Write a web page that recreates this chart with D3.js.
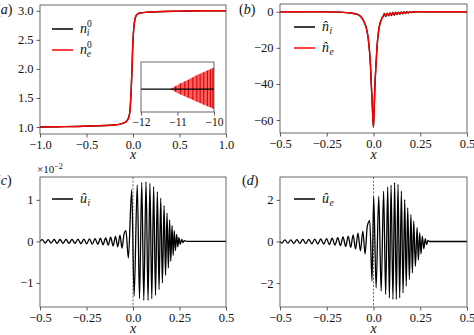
<!DOCTYPE html>
<html><head><meta charset="utf-8">
<script src="https://cdn.jsdelivr.net/npm/d3@7"></script>
<style>
body{margin:0;background:#fff}
svg{display:block}
svg text{font-family:"Liberation Serif","Times New Roman",Times,"DejaVu Serif","Noto Serif",serif}
</style>
</head><body>
<svg id="fig" width="474" height="335"></svg>
<script>
// ---------- data ----------
// panel (a): equilibrium densities
const aX  = [-1, -0.8, -0.6, -0.4, -0.3, -0.2, -0.15, -0.1, -0.07, -0.05, -0.035, -0.025, -0.018, -0.01, -0.004, 0.004, 0.012, 0.022, 0.035, 0.057, 0.09, 0.15, 0.25, 0.5, 0.75, 1.0];
const aNi = [1.0, 1.005, 1.01, 1.02, 1.025, 1.035, 1.045, 1.07, 1.1, 1.15, 1.25, 1.46, 1.7, 2.03, 2.35, 2.6, 2.76, 2.86, 2.92, 2.95, 2.965, 2.975, 2.985, 2.995, 3.0, 3.0];
const aNe = [1.0, 1.005, 1.01, 1.02, 1.025, 1.035, 1.045, 1.07, 1.1, 1.15, 1.25, 1.46, 1.7, 2.03, 2.35, 2.6, 2.76, 2.86, 2.92, 2.95, 2.965, 2.975, 2.985, 2.995, 3.0, 3.0];
// inset of (a): envelope of the red fan and its darker stripes
const insetEnvX   = [-12, -11.2, -11.0, -10.75, -10.5, -10.25, -10.0];
const insetEnvTop = [0, 0, 0.15, 0.32, 0.5, 0.65, 0.8];
const insetEnvBot = [0, 0, -0.15, -0.3, -0.45, -0.6, -0.74];
const insetStripeX   = [-11.05, -10.92, -10.8, -10.7, -10.58, -10.47, -10.38, -10.28, -10.18, -10.1, -10.03];
const insetStripeAmp = [0.12, 0.22, 0.28, 0.34, 0.42, 0.5, 0.55, 0.62, 0.68, 0.72, 0.77];

// panel (b): perturbed densities
const bX  = [-0.5, -0.25, -0.18, -0.12, -0.09, -0.07, -0.055, -0.045, -0.036, -0.028, -0.022, -0.016, -0.012, -0.008, -0.004, 0, 0.004, 0.008, 0.013, 0.018, 0.022, 0.028, 0.035, 0.044, 0.052,
             0.058, 0.066, 0.073, 0.081, 0.088, 0.096, 0.103, 0.111, 0.118, 0.126, 0.133, 0.141, 0.148, 0.156, 0.163, 0.171, 0.178, 0.186, 0.193, 0.201, 0.208, 0.216, 0.223, 0.25, 0.5];
const bNi = [0, -0.05, -0.2, -0.7, -1.3, -2.5, -4.6, -7, -10, -15, -21, -30, -39.6, -48, -58, -64, -52, -40, -30, -21, -15.6, -10, -6.4, -3.8, -2.4,
             -1.0, -2.6, -0.8, -2.3, -0.6, -2.1, -0.4, -1.9, -0.3, -1.6, -0.2, -1.4, -0.1, -1.2, 0.0, -0.9, 0.0, -0.7, 0.0, -0.5, 0.0, -0.3, -0.05, 0, 0];
const bNe = [0, -0.05, -0.2, -0.7, -1.3, -2.5, -4.6, -7, -10, -15, -21, -30, -39.6, -48, -58, -64, -52, -40, -30, -21, -15.6, -10, -6.4, -3.8, -2.4,
             -1.3, -2.2, -1.0, -1.9, -0.8, -1.7, -0.6, -1.5, -0.5, -1.3, -0.4, -1.1, -0.3, -0.9, -0.2, -0.7, -0.1, -0.5, -0.05, -0.35, 0.0, -0.2, -0.05, 0, 0];

// panel (c): ion velocity (x 10^-2), extrema
const cX = [-0.5, -0.488, -0.472, -0.456, -0.440, -0.424, -0.408, -0.392, -0.376, -0.360, -0.344, -0.328, -0.312, -0.296, -0.280, -0.264, -0.249, -0.234, -0.219, -0.204, -0.189, -0.175, -0.161, -0.147, -0.133, -0.120, -0.107, -0.094, -0.082, -0.070, -0.059, -0.048, -0.038, -0.025,
            -0.007, 0.006, 0.023, 0.035, 0.047, 0.058, 0.070, 0.081, 0.091, 0.101, 0.111, 0.121, 0.131, 0.140, 0.149, 0.158, 0.167, 0.175, 0.183, 0.190, 0.197, 0.203, 0.210, 0.216, 0.222, 0.228, 0.235, 0.241, 0.247, 0.254, 0.262, 0.269, 0.276, 0.29, 0.5];
const cU = [0, 0.04, -0.04, 0.04, -0.04, 0.045, -0.045, 0.045, -0.045, 0.05, -0.05, 0.05, -0.05, 0.055, -0.055, 0.055, -0.06, 0.06, -0.065, 0.065, -0.07, 0.075, -0.08, 0.085, -0.09, 0.1, -0.11, 0.12, -0.13, 0.15, -0.16, 0.18, 0.26, -0.4,
            1.24, -1.32, 1.36, -1.38, 1.42, -1.42, 1.44, -1.42, 1.40, -1.38, 1.32, -1.30, 1.20, -1.16, 1.04, -1.0, 0.86, -0.82, 0.68, -0.64, 0.52, -0.48, 0.38, -0.34, 0.26, -0.22, 0.17, -0.13, 0.09, -0.07, 0.05, -0.03, 0.02, 0, 0];

// panel (d): electron velocity
const dX = [-0.5, -0.490, -0.474, -0.458, -0.442, -0.426, -0.410, -0.394, -0.378, -0.362, -0.346, -0.330, -0.314, -0.298, -0.282, -0.266, -0.251, -0.236, -0.221, -0.206, -0.191, -0.177, -0.163, -0.149, -0.135, -0.122, -0.109, -0.096, -0.083, -0.070, -0.057, -0.045, -0.033, -0.020, -0.008,
            0.001, 0.014, 0.028, 0.041, 0.054, 0.065, 0.076, 0.085, 0.094, 0.104, 0.113, 0.122, 0.131, 0.140, 0.149, 0.158, 0.167, 0.175, 0.183, 0.192, 0.200, 0.208, 0.215, 0.224, 0.233, 0.240, 0.247, 0.254, 0.261, 0.269, 0.277, 0.284, 0.291, 0.3, 0.5];
const dU = [0, -0.08, 0.08, -0.08, 0.08, -0.09, 0.09, -0.09, 0.1, -0.1, 0.1, -0.11, 0.11, -0.12, 0.12, -0.13, 0.14, -0.15, 0.16, -0.17, 0.18, -0.2, 0.22, -0.24, 0.26, -0.28, 0.32, -0.36, 0.4, -0.45, 0.5, -0.6, 0.75, 1.0, -1.9,
            2.15, -2.23, 2.18, -2.39, 2.42, -2.55, 2.62, -2.71, 2.71, -2.79, 2.83, -2.79, 2.75, -2.71, 2.42, -2.47, 2.02, -2.15, 1.62, -1.83, 1.3, -1.51, 0.98, -1.19, 0.66, -0.9, 0.42, -0.6, 0.26, -0.35, 0.14, -0.15, 0.05, 0, 0];

// tick values
const aXTicks = [-1, -0.5, 0, 0.5, 1];
const aYTicks = [1.0, 1.5, 2.0, 2.5, 3.0];
const insetXTicks = [-12, -11, -10];
const bXTicks = [-0.5, -0.25, 0, 0.25, 0.5];
const bYTicks = [0, -20, -40, -60];
const cYTicks = [1, 0, -1];
const dYTicks = [2, 0, -2];

// ---------- drawing ----------
const svg = d3.select("#fig");
const FS = 12.5;
const fmtX2 = d => d === 0 ? "0.0" : (Math.abs(d) === 0.5 ? d3.format(".1f")(d) : d3.format(".2f")(d));
let clipId = 0;

// xr: [left, right]; yr: [bottom, top]; yd: [low, high]
function makePanel(o) {
  const x = d3.scaleLinear().domain(o.xd).range(o.xr);
  const y = d3.scaleLinear().domain(o.yd).range(o.yr);
  const g = svg.append("g");
  const id = "clip" + (clipId++);
  g.append("clipPath").attr("id", id).append("rect")
    .attr("x", o.xr[0]).attr("y", o.yr[1]).attr("width", o.xr[1] - o.xr[0]).attr("height", o.yr[0] - o.yr[1]);
  const plot = g.append("g").attr("clip-path", `url(#${id})`);
  const xa = g.append("g").attr("transform", `translate(0,${o.yr[0]})`)
    .call(d3.axisBottom(x).tickValues(o.xt).tickFormat(o.xf).tickSize(3.5).tickSizeOuter(0).tickPadding(2.5));
  const ya = g.append("g").attr("transform", `translate(${o.xr[0]},0)`)
    .call(d3.axisLeft(y).tickValues(o.yt).tickFormat(o.yf).tickSize(3.5).tickSizeOuter(0).tickPadding(3));
  [xa, ya].forEach(a => {
    a.attr("font-family", null);
    a.select(".domain").remove();
    a.selectAll("line").attr("stroke", "#333").attr("stroke-width", 0.8);
    a.selectAll("text").attr("font-size", o.fs || FS).attr("fill", "#111");
  });
  g.append("rect").attr("x", o.xr[0]).attr("y", o.yr[1]).attr("width", o.xr[1] - o.xr[0]).attr("height", o.yr[0] - o.yr[1])
    .attr("fill", "none").attr("stroke", "#444").attr("stroke-width", 0.8);
  return {x, y, g, plot};
}

function curve(p, xs, ys, color, w) {
  const pts = xs.map((v, i) => [v, ys[i]]);
  p.plot.append("path").datum(pts)
    .attr("d", d3.line().x(d => p.x(d[0])).y(d => p.y(d[1])).curve(d3.curveMonotoneX))
    .attr("fill", "none").attr("stroke", color).attr("stroke-width", w || 1.4).attr("stroke-linejoin", "round");
}

function xlabel(cx, yb) {
  svg.append("text").attr("x", cx).attr("y", yb).attr("text-anchor", "middle")
    .attr("font-size", 14).attr("font-style", "italic").attr("fill", "#111").text("x");
}
function plabel(x0, yb, letter) {
  const t = svg.append("text").attr("x", x0).attr("y", yb).attr("font-size", 14).attr("fill", "#111");
  t.append("tspan").text("(");
  t.append("tspan").attr("font-style", "italic").text(letter);
  t.append("tspan").text(")");
}
function legendEntry(x0, y0, color, base, sup, sub) {
  svg.append("line").attr("x1", x0).attr("x2", x0 + 21).attr("y1", y0).attr("y2", y0)
    .attr("stroke", color).attr("stroke-width", 1.5);
  const t = svg.append("text").attr("x", x0 + 28).attr("y", y0 + 4).attr("font-size", 14).attr("fill", "#111");
  t.append("tspan").attr("font-style", "italic").text(base);
  if (sup) t.append("tspan").attr("font-size", 9.5).attr("dy", -6).text(sup);
  t.append("tspan").attr("font-size", 9.5).attr("font-style", "italic").attr("dx", sup ? -5 : 0.5).attr("dy", sup ? 9 : 3).text(sub);
}

// (a)
const pa = makePanel({xd: [-1, 1], xr: [40, 226], yd: [0.88, 3.1], yr: [134, 5], xt: aXTicks, yt: aYTicks,
  xf: d3.format(".1f"), yf: d3.format(".1f")});
curve(pa, aX, aNi, "#000");
curve(pa, aX, aNe, "#ff0000");
xlabel(133, 159);
plabel(-4, 14, "a");
legendEntry(52, 29, "#000", "n", "0", "i");
legendEntry(52, 50, "#ff0000", "n", "0", "e");

// inset of (a)
svg.append("rect").attr("x", 141).attr("y", 62).attr("width", 73).attr("height", 50).attr("fill", "#fff");
const pin = makePanel({xd: [-12, -10], xr: [141, 214], yd: [-0.85, 1.0], yr: [112, 62], xt: insetXTicks, yt: [],
  xf: d3.format("d"), yf: d3.format("d"), fs: 11.5});
const env = insetEnvX.map((v, i) => [v, insetEnvTop[i], insetEnvBot[i]]);
pin.plot.append("path").datum(env)
  .attr("d", d3.area().x(d => pin.x(d[0])).y0(d => pin.y(d[2])).y1(d => pin.y(d[1])))
  .attr("fill", "#ff2a2a").attr("fill-opacity", 0.75);
pin.plot.selectAll("line.stripe").data(insetStripeX.map((v, i) => [v, insetStripeAmp[i]])).join("line")
  .attr("x1", d => pin.x(d[0])).attr("x2", d => pin.x(d[0]))
  .attr("y1", d => pin.y(d[1])).attr("y2", d => pin.y(-d[1] * 0.93))
  .attr("stroke", "#d00000").attr("stroke-width", 1);
pin.plot.append("line").attr("x1", pin.x(-12)).attr("x2", pin.x(-10)).attr("y1", pin.y(0)).attr("y2", pin.y(0))
  .attr("stroke", "#000").attr("stroke-width", 1.2);

// (b)
const pb = makePanel({xd: [-0.5, 0.5], xr: [280, 467], yd: [-67.2, 4.3], yr: [133, 4], xt: bXTicks, yt: bYTicks,
  xf: fmtX2, yf: d3.format("d")});
curve(pb, bX, bNi, "#000");
curve(pb, bX, bNe, "#ff0000");
xlabel(373.5, 159);
plabel(239, 14, "b");
legendEntry(294, 27, "#000", "n\u0302", null, "i");
legendEntry(294, 48, "#ff0000", "n\u0302", null, "e");

// (c)
const pc = makePanel({xd: [-0.5, 0.5], xr: [40, 226], yd: [-1.58, 1.55], yr: [307, 177], xt: bXTicks, yt: cYTicks,
  xf: fmtX2, yf: d3.format("d")});
pc.plot.append("line").attr("x1", pc.x(0)).attr("x2", pc.x(0)).attr("y1", 177).attr("y2", 307)
  .attr("stroke", "#444").attr("stroke-width", 0.8).attr("stroke-dasharray", "2,1.6");
curve(pc, cX, cU, "#000", 1.3);
xlabel(133, 333);
plabel(-4, 185, "c");
{
  const t = svg.append("text").attr("x", 37).attr("y", 173).attr("font-size", 11).attr("fill", "#111");
  t.append("tspan").text("×10");
  t.append("tspan").attr("font-size", 8).attr("dy", -4).text("−2");
}
legendEntry(52, 199, "#000", "û", null, "i");

// (d)
const pd = makePanel({xd: [-0.5, 0.5], xr: [280, 467], yd: [-3.15, 3.1], yr: [307, 177], xt: bXTicks, yt: dYTicks,
  xf: fmtX2, yf: d3.format("d")});
pd.plot.append("line").attr("x1", pd.x(0)).attr("x2", pd.x(0)).attr("y1", 177).attr("y2", 307)
  .attr("stroke", "#444").attr("stroke-width", 0.8).attr("stroke-dasharray", "2,1.6");
curve(pd, dX, dU, "#000", 1.3);
xlabel(373.5, 333);
plabel(242, 185, "d");
legendEntry(294, 199, "#000", "û", null, "e");
</script>
</body></html>
